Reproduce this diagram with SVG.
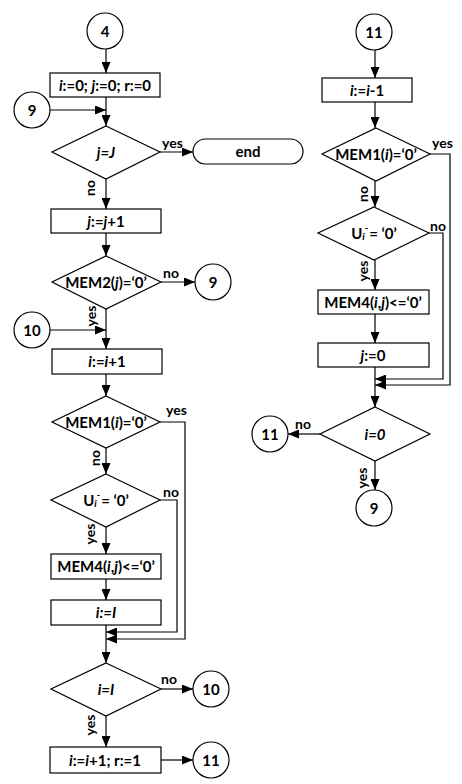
<svg xmlns="http://www.w3.org/2000/svg" width="462" height="784" viewBox="0 0 462 784">
<defs>
<marker id="ah" markerUnits="userSpaceOnUse" markerWidth="11" markerHeight="9" refX="11" refY="4.5" orient="auto">
<path d="M0,0 L11,4.5 L0,9 z" fill="#000"/>
</marker>
<style>
.s{fill:#fff;stroke:#000;stroke-width:1.2}
.t{font-family:Lato,"Liberation Sans",sans-serif;font-weight:bold;font-size:15px;text-anchor:middle;dominant-baseline:central;fill:#000}
.l{font-family:Lato,"Liberation Sans",sans-serif;font-weight:bold;font-size:14px;fill:#000}
.r{font-family:Lato,"Liberation Sans",sans-serif;font-weight:bold;font-size:14px;fill:#000;text-anchor:middle;dominant-baseline:central}
.c{fill:none;stroke:#000;stroke-width:1.2;marker-end:url(#ah)}
.i{font-style:italic}
</style>
</defs>
<rect width="462" height="784" fill="#fff"/>
<g id="connectors">
<path class="c" d="M106,49 V73"/>
<path class="c" d="M106,97 V126"/>
<path class="c" d="M50,110 H106"/>
<path class="c" d="M160,152 H193"/>
<path class="c" d="M106,179 V209"/>
<path class="c" d="M106,233 V256"/>
<path class="c" d="M161,282 H195"/>
<path class="c" d="M106,309 V349"/>
<path class="c" d="M50,330 H106"/>
<path class="c" d="M106,374 V396"/>
<path class="c" d="M106,448 V474"/>
<path class="c" d="M106,527 V554"/>
<path class="c" d="M106,579 V600"/>
<path class="c" d="M106,625 V663"/>
<path class="c" d="M160,422 H185 V639 H106"/>
<path class="c" d="M160,500 H177 V632 H106"/>
<path class="c" d="M161,689 H193"/>
<path class="c" d="M106,716 V747"/>
<path class="c" d="M161,760 H193"/>
<path class="c" d="M375,50 V78"/>
<path class="c" d="M375,102 V128"/>
<path class="c" d="M375,181 V207"/>
<path class="c" d="M375,260 V290"/>
<path class="c" d="M375,314 V343"/>
<path class="c" d="M375,367 V407"/>
<path class="c" d="M430,154 H450 V385 H375"/>
<path class="c" d="M429,233 H443 V379 H375"/>
<path class="c" d="M320,434 H288"/>
<path class="c" d="M375,461 V490"/>
<text class="l" x="162" y="148">yes</text>
<text class="r" transform="translate(89,188) rotate(-90)">no</text>
<text class="l" x="163" y="278">no</text>
<text class="r" transform="translate(90,316) rotate(-90)">yes</text>
<text class="l" x="166" y="415">yes</text>
<text class="r" transform="translate(94,458) rotate(-90)">no</text>
<text class="l" x="163" y="497">no</text>
<text class="r" transform="translate(89,534) rotate(-90)">yes</text>
<text class="l" x="161" y="684">no</text>
<text class="r" transform="translate(89,725) rotate(-90)">yes</text>
<text class="l" x="432" y="148">yes</text>
<text class="r" transform="translate(362,194) rotate(-90)">no</text>
<text class="l" x="430" y="231">no</text>
<text class="r" transform="translate(362,271) rotate(-90)">yes</text>
<text class="l" x="295" y="429">no</text>
<text class="r" transform="translate(361,478) rotate(-90)">yes</text>
</g>
<g id="n4"><circle class="s" cx="105" cy="31" r="18"/><text class="t" x="105" y="31">4</text></g>
<g id="init"><rect class="s" x="50" y="73" width="110" height="24"/><text class="t" x="105" y="85"><tspan class="i">i</tspan>:=0; <tspan class="i">j</tspan>:=0; r:=0</text></g>
<g id="c9a"><circle class="s" cx="32" cy="110" r="18"/><text class="t" x="32" y="110">9</text></g>
<g id="d1"><polygon class="s" points="106,126 160,152 106,179 52,152"/><text class="t i" x="106" y="152">j=J</text></g>
<g id="end"><rect class="s" x="193" y="139" width="110" height="25" rx="12.5"/><text class="t" x="248" y="151">end</text></g>
<g id="b2"><rect class="s" x="51" y="209" width="110" height="24"/><text class="t" x="106" y="221"><tspan class="i">j</tspan>:=<tspan class="i">j</tspan>+1</text></g>
<g id="d2"><polygon class="s" points="106,256 161,282 106,309 52,282"/><text class="t" x="106" y="282">MEM2(<tspan class="i">j</tspan>)=‘0’</text></g>
<g id="c9b"><circle class="s" cx="213" cy="282" r="18"/><text class="t" x="213" y="282">9</text></g>
<g id="c10a"><circle class="s" cx="32" cy="330" r="18"/><text class="t" x="32" y="330">10</text></g>
<g id="b3"><rect class="s" x="52" y="349" width="110" height="25"/><text class="t" x="107" y="361"><tspan class="i">i</tspan>:=<tspan class="i">i</tspan>+1</text></g>
<g id="d3"><polygon class="s" points="106,396 160,422 106,448 52,422"/><text class="t" x="106" y="422">MEM1(<tspan class="i">i</tspan>)=‘0’</text></g>
<g id="d4"><polygon class="s" points="106,474 160,500 106,527 51,500"/><text class="t" x="106" y="500">U<tspan class="i" font-size="10" dy="3">i</tspan><tspan font-size="9" dy="-9">-</tspan><tspan dy="6" dx="1">= ‘0’</tspan></text></g>
<g id="b4"><rect class="s" x="51" y="554" width="110" height="25"/><text class="t" x="106" y="566">MEM4(<tspan class="i">i</tspan>,<tspan class="i">j</tspan>)&lt;=‘0’</text></g>
<g id="b5"><rect class="s" x="51" y="600" width="110" height="25"/><text class="t i" x="106" y="612">i:=I</text></g>
<g id="d5"><polygon class="s" points="106,663 161,689 106,716 51,689"/><text class="t i" x="106" y="689">i=I</text></g>
<g id="c10b"><circle class="s" cx="211" cy="689" r="18"/><text class="t" x="211" y="689">10</text></g>
<g id="b6"><rect class="s" x="50" y="747" width="111" height="26"/><text class="t" x="105" y="760"><tspan class="i">i</tspan>:=<tspan class="i">i</tspan>+1; r:=1</text></g>
<g id="c11a"><circle class="s" cx="211" cy="760" r="18"/><text class="t" x="211" y="760">11</text></g>
<g id="c11b"><circle class="s" cx="374" cy="32" r="18"/><text class="t" x="374" y="32">11</text></g>
<g id="r1"><rect class="s" x="322" y="78" width="90" height="24"/><text class="t" x="367" y="90"><tspan class="i">i</tspan>:=<tspan class="i">i</tspan>-1</text></g>
<g id="rd1"><polygon class="s" points="376,128 430,154 376,181 322,154"/><text class="t" x="376" y="154">MEM1(<tspan class="i">i</tspan>)=‘0’</text></g>
<g id="rd2"><polygon class="s" points="374,207 429,233 374,260 318,233"/><text class="t" x="374" y="233">U<tspan class="i" font-size="10" dy="3">i</tspan><tspan font-size="9" dy="-9">-</tspan><tspan dy="6" dx="1">= ‘0’</tspan></text></g>
<g id="r2"><rect class="s" x="318" y="290" width="111" height="24"/><text class="t" x="373" y="302">MEM4(<tspan class="i">i</tspan>,<tspan class="i">j</tspan>)&lt;=‘0’</text></g>
<g id="r3"><rect class="s" x="318" y="343" width="111" height="24"/><text class="t" x="373" y="355"><tspan class="i">j</tspan>:=0</text></g>
<g id="rd3"><polygon class="s" points="375,407 430,434 375,461 320,434"/><text class="t i" x="375" y="434">i=0</text></g>
<g id="c11c"><circle class="s" cx="270" cy="434" r="18"/><text class="t" x="270" y="434">11</text></g>
<g id="c9c"><circle class="s" cx="374" cy="508" r="18"/><text class="t" x="374" y="508">9</text></g>
</svg>
